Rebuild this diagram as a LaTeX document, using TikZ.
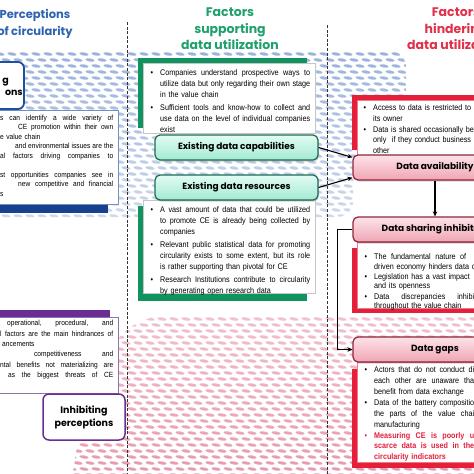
\documentclass[tikz,border=0pt]{standalone}
\usepackage{fontspec}
\setmainfont{Liberation Sans}
\newfontfamily\bodyf[FakeStretch=0.88]{Liberation Sans}
\newfontfamily\headf{Poppins}
\usetikzlibrary{arrows.meta,shadows}
\definecolor{blueT}{HTML}{2E63B2}
\definecolor{blueB}{HTML}{1F4F9F}
\definecolor{blueLine}{HTML}{6F8FC0}
\definecolor{navy}{HTML}{17418F}
\definecolor{blueDot}{HTML}{9CB3DD}
\definecolor{greenT}{HTML}{1FA06C}
\definecolor{greenS}{HTML}{10935E}
\definecolor{mintTop}{HTML}{E2FCF3}
\definecolor{mintBot}{HTML}{A3EAD2}
\definecolor{mintBorder}{HTML}{1D6A55}
\definecolor{redT}{HTML}{E2304B}
\definecolor{redB}{HTML}{E51E3A}
\definecolor{pinkTop}{HTML}{FCE3E8}
\definecolor{pinkBot}{HTML}{F0A5B5}
\definecolor{pinkBorder}{HTML}{8F2537}
\definecolor{pinkDot}{HTML}{E898AD}
\definecolor{purp}{HTML}{6B2D90}
\definecolor{purpLine}{HTML}{8E73B0}
\newlength\tw
\newcommand\jf[2]{\makebox[#1][s]{\spaceskip=0.25em plus 1fil\relax #2}}
\newcommand\jl[1]{\jf{\tw}{#1}}
\newcommand\jr[2]{\hfill\jf{#1pt}{#2}}
\newcommand\bul{\leavevmode\llap{\textbullet\hspace{7pt}}}
\begin{document}
\begin{tikzpicture}[x=1pt,y=-1pt,
  ttl/.style={align=center, inner sep=0, font=\headf\bfseries\fontsize{12.5}{16.5}\selectfont},
  boxW/.style={fill=white, line width=0.6pt},
  capg/.style={rounded corners=5pt, draw=mintBorder, line width=1.2pt, top color=mintTop, bottom color=mintBot,
     drop shadow={shadow xshift=1pt, shadow yshift=-1.5pt, opacity=0.35},
     minimum width=163pt, minimum height=25pt, inner sep=0, font=\headf\bfseries\fontsize{9}{11}\selectfont},
  capr/.style={rounded corners=5pt, draw=pinkBorder, line width=1.2pt, top color=pinkTop, bottom color=pinkBot,
     drop shadow={shadow xshift=1pt, shadow yshift=-1.5pt, opacity=0.35},
     minimum width=164pt, minimum height=25pt, inner sep=0, font=\headf\bfseries\fontsize{9}{11}\selectfont},
  lbl/.style={rounded corners=6pt, fill=white, line width=1.8pt, inner sep=0},
  txtL/.style={anchor=north west, inner sep=0, align=left, text width=113pt,
     execute at begin node={\setlength\tw{113pt}},
     font=\bodyf\fontsize{7.5}{9.5}\selectfont},
  txtC/.style={anchor=north west, inner sep=0, align=left, text width=150pt,
     execute at begin node={\setlength\tw{150pt}},
     font=\bodyf\fontsize{8.2}{11}\selectfont},
  txtR/.style={anchor=north west, inner sep=0, align=left, text width=130pt,
     font=\bodyf\fontsize{8.2}{10.5}\selectfont},
  divider/.style={line width=0.9pt, black!80, dash pattern=on 3pt off 1.6pt},
  arr/.style={line width=1.1pt, -{Stealth[length=5pt,width=4.5pt]}}
]
\useasboundingbox (0,0) rectangle (474,474);
\clip (0,0) rectangle (474,474);
\fill[white] (0,0) rectangle (474,474);

% blue dotted background
\begin{scope}
\clip[rounded corners=16pt] (-30,51) -- (406,51) -- (406,150) -- (353,150) -- (353,217) -- (-30,217) -- cycle;
\foreach \r in {0,...,27}{
  \pgfmathsetmacro\op{1-0.5*\r/27}
  \foreach \c in {0,...,36}{
    \pgfmathsetmacro\xx{-12+12*\c+6*mod(\r,2)}
    \fill[blueDot, opacity=\op, shift={(\xx,54+6*\r)}, rotate=-10] (0,0) ellipse [x radius=4.6, y radius=1.6];
  }}
\end{scope}

% pink dotted background
\begin{scope}
\clip (480,316) -- (160,316) .. controls (110,322) and (85,380) .. (72,480) -- (480,480) -- cycle;
\foreach \r in {0,...,27}{
  \pgfmathsetmacro\op{0.6+0.4*\r/27}
  \foreach \c in {0,...,34}{
    \pgfmathsetmacro\xx{66+12*\c+6*mod(\r,2)}
    \fill[pinkDot, opacity=\op, shift={(\xx,319+6*\r)}, rotate=-10] (0,0) ellipse [x radius=4.6, y radius=1.6];
  }}
\end{scope}

% dividers
\draw[divider] (127,22) -- (127,480);
\draw[divider] (327,25) -- (327,480);

% titles
\node[ttl, text=blueT, font=\headf\bfseries\fontsize{11.5}{16.5}\selectfont] (tP) at (35,24) {Perceptions\\of circularity};
\node[ttl, text=greenT] (tS) at (230,29) {Factors\\supporting\\data utilization};
\node[ttl, text=redT] (tH) at (456,29) {Factors\\hindering\\data utilization};

% left: enabling perceptions
\node[lbl, draw=blueB, minimum width=84pt, minimum height=47pt] (enab) at (-18,85.5) {};
\node[anchor=east, align=right, inner sep=0, font=\headf\bfseries\fontsize{9.5}{12}\selectfont] (enabT) at (23,87) {g\hspace*{14pt}\\ons};
\fill[navy] (-5,120) rectangle (108,213);
\draw[boxW, draw=blueLine] (-5,110) rectangle (118,204);
\node[txtL] (eTxt) at (0,114.5) {%
\jl{s can identify a wide variety of}\\
\jr{95}{CE promotion within their own}\\
e value chain\\
\jr{98}{and environmental issues are the}\\
\jl{al factors driving companies to}\\
\mbox{}\\
\jl{st opportunities companies see in}\\
\jr{95}{new competitive and financial}\\
s};

% left: inhibiting perceptions
\fill[purp] (-5,310) rectangle (110,386);
\draw[boxW, draw=purpLine] (-5,317) rectangle (118,393);
\node[txtL, font=\bodyf\fontsize{7.5}{10.4}\selectfont] (iTxt) at (0,320) {%
\jr{106}{operational, procedural, and}\\
\jl{l factors are the main hindrances of}\\
\hspace{2pt}ancements\\
\jr{79}{competitiveness and}\\
\jl{ntal benefits not materializing are}\\
\jr{105}{as the biggest threats of CE}};
\node[lbl, draw=purp, line width=1.5pt, minimum width=82pt, minimum height=46pt, align=center,
      font=\headf\bfseries\fontsize{9.5}{13}\selectfont] (inhib) at (84,417) {Inhibiting\\perceptions};

% centre: supporting factors
\fill[greenS] (138,58) rectangle (307,128);
\draw[boxW, draw=gray!45] (143,63) rectangle (315,133);
\node[txtC] (sTxt1) at (160,69) {%
\bul\jl{Companies understand prospective ways to}\\
\jl{utilize data but only regarding their own stage}\\
in the value chain\\[2pt]
\bul\jl{Sufficient tools and know-how to collect and}\\
\jl{use data on the level of individual companies}\\
exist};
\fill[greenS] (138,206) rectangle (307,301);
\draw[boxW, draw=gray!45] (143,200) rectangle (315,293);
\node[txtC] (sTxt2) at (160,206) {%
\bul\jl{A vast amount of data that could be utilized}\\
\jl{to promote CE is already being collected by}\\
companies\\[2pt]
\bul\jl{Relevant public statistical data for promoting}\\
\jl{circularity exists to some extent, but its role}\\
is rather supporting than pivotal for CE\\[2pt]
\bul\jl{Research Institutions contribute to circularity}\\
by generating open research data};
\node[capg] (cap) at (236.5,147.5) {Existing data capabilities};
\node[capg] (res) at (236.5,187.5) {Existing data resources};

% right: hindering factors
\fill[redB] (352,95) rectangle (480,150);
\draw[boxW, draw=redB!60] (357,100) rectangle (480,155);
\node[txtR] (hTxt1) at (373,104.5) {%
\bul Access to data is restricted to\\
its owner\\[0.5pt]
\bul Data is shared occasionally bet\\
only\ \ if they conduct business\\
other};
\fill[redB] (352,248) rectangle (480,313);
\draw[boxW, draw=redB!60] (357,242) rectangle (480,308);
\node[txtR, font=\bodyf\fontsize{8.2}{9.4}\selectfont] (hTxt2) at (374,253.5) {%
\bul\jf{92pt}{The fundamental nature of}\\
driven economy hinders data c\\[1pt]
\bul Legislation has a vast impact\\
and its openness\\[1pt]
\bul\jf{100pt}{Data discrepancies inhibi}\\
throughout the value chain};
\fill[redB] (352,369) rectangle (480,468);
\draw[boxW, draw=redB!60] (357,362) rectangle (480,462);
\node[txtR, font=\bodyf\fontsize{8.2}{10.9}\selectfont] (hTxt3) at (374,366.5) {%
\bul\jf{100pt}{Actors that do not conduct di}\\
\jf{100pt}{each other are unaware tha}\\
benefit from data exchange\\
\bul\jf{100pt}{Data of the battery compositio}\\
\jf{100pt}{the parts of the value chai}\\
manufacturing\\
\textcolor{redB}{\bul\bfseries\jf{100pt}{Measuring CE is poorly u}}\\
\textcolor{redB}{\bfseries\jf{100pt}{scarce data is used in the}}\\
\textcolor{redB}{\bfseries circularity indicators}};
\node[capr] (avail) at (435,167.5) {Data availability};
\node[capr] (share) at (435,229.5) {Data sharing inhibitors};
\node[capr] (gaps) at (435,349.5) {Data gaps};

% connectors
\draw[arr] (cap.east) -- ([yshift=-3pt]avail.north west);
\draw[arr] (res.east) -- ([yshift=3pt]avail.south west);
\draw[arr] (avail.south) -- (share.north);
\draw[arr] (share.west) -- ++(-15,0) |- (gaps.west);
\end{tikzpicture}
\end{document}
